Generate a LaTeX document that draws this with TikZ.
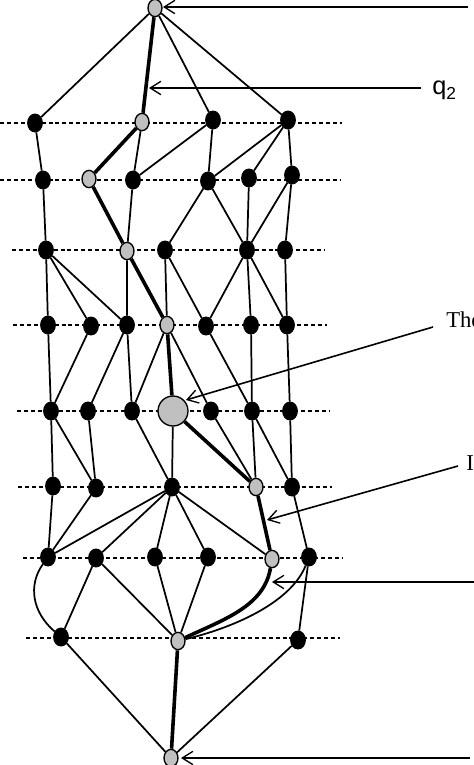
\documentclass[tikz,border=0pt]{standalone}
\usepackage{fontspec}
\setmainfont{Liberation Serif}
\newfontfamily\sansf{Liberation Sans}
\usetikzlibrary{arrows.meta,shapes.geometric}
\definecolor{nodegray}{RGB}{192,192,192}
\begin{document}
\begin{tikzpicture}[x=0.75pt,y=-0.75pt,
  bn/.style={ellipse,draw=black,fill=black,minimum width=11.2pt,minimum height=13.6pt,inner sep=0pt,line width=0.6pt},
  gn/.style={ellipse,draw=black,fill=nodegray,minimum width=10.5pt,minimum height=13pt,inner sep=0pt,line width=1pt},
  bign/.style={circle,draw=black,fill=nodegray,minimum size=22.5pt,inner sep=0pt,line width=1pt},
  edge/.style={line width=1.3pt},
  path/.style={line width=2.7pt},
  row/.style={line width=1.5pt,dash pattern=on 3pt off 2.2pt},
  pointer/.style={line width=1.2pt,-{Straight Barb[length=8pt,width=10pt,line width=1pt]}},
  lbl/.style={inner sep=0pt,anchor=base west}
]
\useasboundingbox (0,0) rectangle (474,765);
% dotted rows
\draw[row] (0,123) -- (342,123);
\draw[row] (0,180) -- (340,180);
\draw[row] (12,250) -- (325,250);
\draw[row] (13,325) -- (327,325);
\draw[row] (17,411) -- (330,411);
\draw[row] (18,487) -- (332,487);
\draw[row] (23,558) -- (343,558);
\draw[row] (26,638) -- (340,638);
% nodes
\node[gn] (T) at (155,8) {};
\node[bn] (a1) at (35,123) {};
\node[gn] (a2) at (142,122) {};
\node[bn] (a3) at (213,120) {};
\node[bn] (a4) at (288,120) {};
\node[bn] (b1) at (43,180) {};
\node[gn] (b2) at (89,179) {};
\node[bn] (b3) at (133,180) {};
\node[bn] (b4) at (208,181) {};
\node[bn] (b5) at (249,178) {};
\node[bn] (b6) at (292,175) {};
\node[bn] (c1) at (46,250) {};
\node[gn] (c2) at (127,251) {};
\node[bn] (c3) at (165,250) {};
\node[bn] (c4) at (247,250) {};
\node[bn] (c5) at (285,250) {};
\node[bn] (d1) at (48,325) {};
\node[bn] (d2) at (91,326) {};
\node[bn] (d3) at (127,325) {};
\node[gn] (d4) at (167,325) {};
\node[bn] (d5) at (206,326) {};
\node[bn] (d6) at (251,325) {};
\node[bn] (d7) at (287,325) {};
\node[bn] (e1) at (51,411) {};
\node[bn] (e2) at (88,411) {};
\node[bn] (e3) at (132,411) {};
\node[bign] (e4) at (173,411) {};
\node[bn] (e5) at (211,411) {};
\node[bn] (e6) at (252,411) {};
\node[bn] (e7) at (290,411) {};
\node[bn] (f1) at (53,486) {};
\node[bn] (f2) at (96,488) {};
\node[bn] (f3) at (172,487) {};
\node[gn] (f4) at (256,487) {};
\node[bn] (f5) at (292,487) {};
\node[bn] (g1) at (48,557) {};
\node[bn] (g2) at (96,558) {};
\node[bn] (g3) at (155,557) {};
\node[bn] (g4) at (208,557) {};
\node[gn] (g5) at (272,559) {};
\node[bn] (g6) at (309,557) {};
\node[bn] (h1) at (61,637) {};
\node[gn] (h2) at (178,641) {};
\node[bn] (h3) at (298,640) {};
\node[gn] (B) at (171,758) {};
% thin edges
\draw[edge] (T)--(a1) (T)--(a3) (T)--(a4);
\draw[edge] (a1)--(b1) (a2)--(b3) (a3)--(b3) (a3)--(b4) (a4)--(b4) (a4)--(b5) (a4)--(b6);
\draw[edge] (b1)--(c1) (b3)--(c2) (b4)--(c3) (b4)--(c4) (b5)--(c4) (b6)--(c4) (b6)--(c5);
\draw[edge] (c1)--(d1) (c1)--(d2) (c1)--(d3) (c2)--(d3) (c3)--(d4) (c3)--(d5) (c4)--(d5) (c4)--(d6) (c4)--(d7) (c5)--(d7);
\draw[edge] (d1)--(e1) (d2)--(e1) (d3)--(e2) (d3)--(e3) (d4)--(e3) (d4)--(e5) (d5)--(e6) (d6)--(e6) (d7)--(e7);
\draw[edge] (e1)--(f1) (e1)--(f2) (e2)--(f2) (e3)--(f3) (e4)--(f3) (e5)--(f4) (e6)--(f4) (e6)--(f5) (e7)--(f5);
\draw[edge] (f1)--(g1) (f2)--(g1) (f3)--(g1) (f3)--(g2) (f3)--(g3) (f3)--(g4) (f3)--(g5) (f5)--(g6);
\draw[edge] (g1) .. controls (28,585) and (32,612) .. (h1);
\draw[edge] (g2)--(h1) (g2)--(h2) (g3)--(h2) (g4)--(h2) (g6)--(h3);
\draw[edge] (g6) .. controls (292,600) and (240,626) .. (h2);
\draw[edge] (h1)--(B) (h3)--(B);
% thick path
\draw[path] (T)--(a2);
\draw[path] (a2)--(b2);
\draw[path] (b2)--(c2);
\draw[path] (c2)--(d4);
\draw[path] (d4)--(e4);
\draw[path] (e4)--(f4);
\draw[path] (f4)--(g5);
\draw[path] (g5) .. controls (264,606) and (225,619) .. (h2);
\draw[path] (h2)--(B);
% pointers and labels
\coordinate (p1) at (468,7);
\coordinate (t1) at (163,7);
\draw[pointer] (p1) -- (t1);
\coordinate (p2) at (421,88);
\coordinate (t2) at (149,88);
\draw[pointer] (p2) -- (t2);
\node[lbl,font=\sansf\fontsize{19}{21}\selectfont] (q2) at (432,94) {q\raisebox{-0.4ex}{\fontsize{13}{14}\selectfont 2}};
\coordinate (p3) at (433,327);
\coordinate (t3) at (186,400);
\draw[pointer] (p3) -- (t3);
\node[lbl,font=\fontsize{17}{20}\selectfont] (lt) at (446,327) {The};
\coordinate (p4) at (458,466);
\coordinate (t4) at (267,520);
\draw[pointer] (p4) -- (t4);
\node[lbl,font=\fontsize{17}{20}\selectfont] (li) at (466,470) {I};
\coordinate (p5) at (474,582);
\coordinate (t5) at (272,582);
\draw[pointer] (p5) -- (t5);
\coordinate (p6) at (470,758);
\coordinate (t6) at (181,758);
\draw[pointer] (p6) -- (t6);
\end{tikzpicture}
\end{document}
